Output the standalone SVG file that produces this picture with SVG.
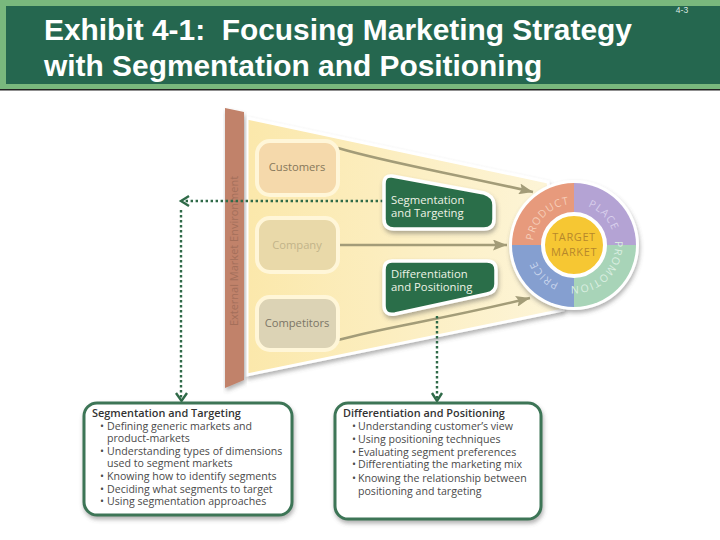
<svg xmlns="http://www.w3.org/2000/svg" width="720" height="540" viewBox="0 0 720 540">
<style>
.t{font-family:"Liberation Sans",Arial,sans-serif;font-weight:bold;font-size:29.9px;fill:#fff}
.f{font-family:"Open Sans","Noto Sans",sans-serif}
.src{stroke:#fff6d8;stroke-width:4}
.nl{font-size:11.2px;text-anchor:middle}
.gb{fill:#2c6e48;stroke:#fff;stroke-width:3.5;filter:url(#sh)}
.gt{font-size:11.3px;fill:#eef3e6}
.conn{fill:none;stroke:#a39c78;stroke-width:2.6}
.dot{fill:none;stroke:#2f6a48;stroke-width:2.4;stroke-dasharray:2.4 2.6}
.chev{fill:none;stroke:#2f6a48;stroke-width:2.4}
.box{fill:#fff;stroke:#3c7557;stroke-width:3;filter:url(#sh)}
.bt{font-size:10.6px;fill:#4a4a4a}
.bh{font-size:10.9px;fill:#333;font-weight:600}
.w{font-size:10.5px;letter-spacing:1px;text-anchor:middle}
</style>
<defs>
<filter id="sh" x="-10%" y="-10%" width="125%" height="130%"><feDropShadow dx="1" dy="3" stdDeviation="2.2" flood-color="#555" flood-opacity=".45"/></filter>
<linearGradient id="fun" x1="0" x2="1" y1="0" y2="0"><stop offset="0" stop-color="#fbe8ab"/><stop offset="1" stop-color="#fdf5d9"/></linearGradient>
<marker id="ah" markerUnits="userSpaceOnUse" markerWidth="15" markerHeight="11" refX="14" refY="5.5" orient="auto"><path d="M0,0L14,5.5L0,11L2.5,5.500Z" fill="#a39c78"/></marker>
<path id="a1" d="M545,274A41,41 0 0 1 603,216"/>
<path id="a2" d="M545,216A41,41 0 0 1 603,274"/>
<path id="a3" d="M603,216A41,41 0 0 1 545,274"/>
<path id="a4" d="M603,274A41,41 0 0 1 545,216"/>
</defs>

<g id="header">
<rect width="720" height="90" fill="#79b87d"/>
<rect x="6" y="6" width="714" height="78" fill="#25674f"/>
<rect y="89" width="720" height="1.500" fill="#222"/>
<text class="t" x="44" y="40" xml:space="preserve">Exhibit 4-1:  Focusing Marketing Strategy</text>
<text class="t" x="44" y="76">with Segmentation and Positioning</text>
<text x="682" y="13" text-anchor="middle" font-family="Liberation Sans,Arial,sans-serif" font-size="8.5" fill="#dfe9e2">4-3</text>
</g>

<g id="funnel">
<path d="M247,118L548,182L563,310L247,375Z" fill="url(#fun)" stroke="#fff" stroke-width="3" filter="url(#sh)"/>
</g>
<g id="external-market-environment">
<path d="M225,108L244,112V380L225,388Z" fill="#c1826a" filter="url(#sh)"/>
<text class="f" transform="translate(238,251) rotate(-90)" text-anchor="middle" font-size="11" fill="#a46f5a">External Market Environment</text>
</g>

<g id="connectors">
<path class="conn" d="M338,148C385,162 440,171 533,192" marker-end="url(#ah)"/>
<path class="conn" d="M338,245H507" marker-end="url(#ah)"/>
<path class="conn" d="M338,340C385,327 440,320 530,298" marker-end="url(#ah)"/>
<path class="dot" d="M383,201H183"/>
<path class="chev" d="M189,196L181,201L189,206"/>
<path class="dot" d="M181,210V398"/>
<path class="chev" d="M176,393L181.500,401L187,393"/>
<path class="dot" d="M437,316V398"/>
<path class="chev" d="M432,393L437,401L442,393"/>
</g>

<g id="customers">
<rect class="src" x="257" y="141" width="81" height="54" rx="13" fill="#f5d9ab"/>
<text class="f nl" x="297" y="171" fill="#86775a">Customers</text>
</g>
<g id="company">
<rect class="src" x="257" y="218" width="81" height="54" rx="13" fill="#e9d9a9"/>
<text class="f nl" x="297" y="249" fill="#c2b48a">Company</text>
</g>
<g id="competitors">
<rect class="src" x="257" y="297" width="81" height="53" rx="13" fill="#dcd3b5"/>
<text class="f nl" x="297" y="327" fill="#7b7566">Competitors</text>
</g>

<g id="segmentation-targeting">
<path class="gb" d="M392,176L484,193Q494,196 494,205V219Q494,229 484,229H394Q384,229 384,219V184Q384,175 392,176Z"/>
<text class="f gt" x="391" y="204">Segmentation</text>
<text class="f gt" x="391" y="217">and Targeting</text>
</g>
<g id="differentiation-positioning">
<path class="gb" d="M392,261H487Q496,261 496,270V284Q496,292 487,294L395,314Q384,316 384,305V270Q384,261 392,261Z"/>
<text class="f gt" x="391" y="278">Differentiation</text>
<text class="f gt" x="391" y="291">and Positioning</text>
</g>

<g id="marketing-mix">
<circle cx="574" cy="245" r="65" fill="#fff" filter="url(#sh)"/>
<path d="M574,245V183A62,62 0 0 0 512,245Z" fill="#e79a7c"/>
<path d="M574,245H636A62,62 0 0 0 574,183Z" fill="#b4a3d4"/>
<path d="M574,245V307A62,62 0 0 0 636,245Z" fill="#a8d4b8"/>
<path d="M574,245H512A62,62 0 0 0 574,307Z" fill="#859fd0"/>
<text class="f w" fill="#f6cdb8"><textPath href="#a1" startOffset="50%">PRODUCT</textPath></text>
<text class="f w" fill="#d9d0ec"><textPath href="#a2" startOffset="50%">PLACE</textPath></text>
<text class="f w" fill="#dcefe2"><textPath href="#a3" startOffset="50%">PROMOTION</textPath></text>
<text class="f w" fill="#c8d4ec"><textPath href="#a4" startOffset="50%">PRICE</textPath></text>
</g>
<g id="target-market">
<circle cx="574" cy="245" r="31" fill="#f6c733" stroke="#fff" stroke-width="4"/>
<text class="f" x="574" y="241" text-anchor="middle" font-size="11" letter-spacing=".6" fill="#b6872c">TARGET</text>
<text class="f" x="574" y="256" text-anchor="middle" font-size="11" letter-spacing=".6" fill="#b6872c">MARKET</text>
</g>

<g id="box-segmentation">
<rect class="box" x="84" y="403" width="208" height="112" rx="13"/>
<text class="f bh" x="92" y="417">Segmentation and Targeting</text>
<text class="f bt" x="100" y="430">•</text><text class="f bt" x="107" y="430">Defining generic markets and</text>
<text class="f bt" x="107" y="442">product-markets</text>
<text class="f bt" x="100" y="455">•</text><text class="f bt" x="107" y="455">Understanding types of dimensions</text>
<text class="f bt" x="107" y="467">used to segment markets</text>
<text class="f bt" x="100" y="480">•</text><text class="f bt" x="107" y="480">Knowing how to identify segments</text>
<text class="f bt" x="100" y="493">•</text><text class="f bt" x="107" y="493">Deciding what segments to target</text>
<text class="f bt" x="100" y="505">•</text><text class="f bt" x="107" y="505">Using segmentation approaches</text>
</g>
<g id="box-differentiation">
<rect class="box" x="335" y="403" width="206" height="116" rx="13"/>
<text class="f bh" x="343" y="417">Differentiation and Positioning</text>
<text class="f bt" x="352" y="430">•</text><text class="f bt" x="358" y="430">Understanding customer’s view</text>
<text class="f bt" x="352" y="443">•</text><text class="f bt" x="358" y="443">Using positioning techniques</text>
<text class="f bt" x="352" y="456">•</text><text class="f bt" x="358" y="456">Evaluating segment preferences</text>
<text class="f bt" x="352" y="468">•</text><text class="f bt" x="358" y="468">Differentiating the marketing mix</text>
<text class="f bt" x="352" y="482">•</text><text class="f bt" x="358" y="482">Knowing the relationship between</text>
<text class="f bt" x="358" y="495">positioning and targeting</text>
</g>
</svg>
